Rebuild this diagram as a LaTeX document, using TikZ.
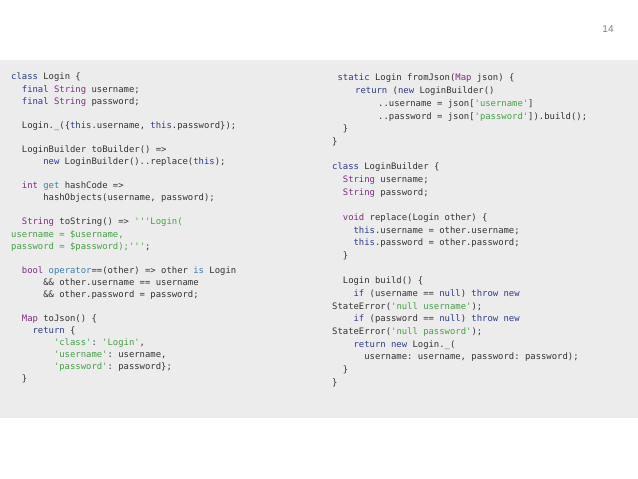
\documentclass[tikz,border=0pt]{standalone}
\usepackage{fontspec}
\setmainfont{Liberation Sans}
\setmonofont{DejaVu Sans Mono}
\definecolor{band}{HTML}{ECECEC}
\definecolor{txt}{HTML}{333333}
\definecolor{kwc}{HTML}{2E3A8C}
\definecolor{tyc}{HTML}{7E2F7E}
\definecolor{kbc}{HTML}{3A80A8}
\definecolor{stc}{HTML}{45A045}
\newcommand\kw[1]{\textcolor{kwc}{#1}}
\newcommand\ty[1]{\textcolor{tyc}{#1}}
\newcommand\kb[1]{\textcolor{kbc}{#1}}
\newcommand\strc[1]{\textcolor{stc}{#1}}
\tikzset{code/.style={anchor=base west,inner sep=0pt,text=txt,font=\ttfamily\fontsize{8.9}{10}\selectfont}}
% name, x0, indent, line index, y0, step, text
\newcommand\codeline[7]{\node[code] (#1) at ({#2+#3*5.35},{479-(#5+#4*#6)}) {#7};}
\newcommand\Lc[4]{\codeline{#1}{11}{#2}{#3}{80}{12.08}{#4}}
\newcommand\Rc[4]{\codeline{#1}{332}{#2}{#3}{81}{12.67}{#4}}
\begin{document}
\begin{tikzpicture}[x=1pt,y=1pt]
\useasboundingbox (0,0) rectangle (638,479);
\fill[white] (0,0) rectangle (638,479);
\fill[band] (0,61) rectangle (638,419);
\node[text=gray,font=\fontsize{10}{12}\selectfont] (pg) at (608,450) {14};
\Lc{l0}{0}{0}{\kw{class} Login \{}
\Lc{l1}{2}{1}{\kw{final} \ty{String} username;}
\Lc{l2}{2}{2}{\kw{final} \ty{String} password;}
\Lc{l4}{2}{4}{Login.\_(\{\kw{this}.username, \kw{this}.password\});}
\Lc{l6}{2}{6}{LoginBuilder toBuilder() =>}
\Lc{l7}{6}{7}{\kw{new} LoginBuilder()..replace(\kw{this});}
\Lc{l9}{2}{9}{\ty{int} \kb{get} hashCode =>}
\Lc{l10}{6}{10}{hashObjects(username, password);}
\Lc{l12}{2}{12}{\ty{String} toString() => \strc{'''Login(}}
\Lc{l13}{0}{13}{\strc{username = \$username,}}
\Lc{l14}{0}{14}{\strc{password = \$password);'''};}
\Lc{l16}{2}{16}{\ty{bool} \kb{operator}==(other) => other \kb{is} Login}
\Lc{l17}{6}{17}{\&\& other.username == username}
\Lc{l18}{6}{18}{\&\& other.password = password;}
\Lc{l20}{2}{20}{\ty{Map} toJson() \{}
\Lc{l21}{4}{21}{\kw{return} \{}
\Lc{l22}{8}{22}{\strc{'class'}: \strc{'Login'},}
\Lc{l23}{8}{23}{\strc{'username'}: username,}
\Lc{l24}{8}{24}{\strc{'password'}: password\};}
\Lc{l25}{2}{25}{\}}
\Rc{r0}{1}{0}{\kw{static} Login fromJson(\ty{Map} json) \{}
\Rc{r1}{4.3}{1}{\kw{return} (\kw{new} LoginBuilder()}
\Rc{r2}{8.6}{2}{..username = json[\strc{'username'}]}
\Rc{r3}{8.6}{3}{..password = json[\strc{'password'}]).build();}
\Rc{r4}{2}{4}{\}}
\Rc{r5}{0}{5}{\}}
\Rc{r7}{0}{7}{\kw{class} LoginBuilder \{}
\Rc{r8}{2}{8}{\ty{String} username;}
\Rc{r9}{2}{9}{\ty{String} password;}
\Rc{r11}{2}{11}{\ty{void} replace(Login other) \{}
\Rc{r12}{4}{12}{\kw{this}.username = other.username;}
\Rc{r13}{4}{13}{\kw{this}.password = other.password;}
\Rc{r14}{2}{14}{\}}
\Rc{r16}{2}{16}{Login build() \{}
\Rc{r17}{4}{17}{\kw{if} (username == \kw{null}) \kw{throw} \kw{new}}
\Rc{r18}{0}{18}{StateError(\strc{'null username'});}
\Rc{r19}{4}{19}{\kw{if} (password == \kw{null}) \kw{throw} \kw{new}}
\Rc{r20}{0}{20}{StateError(\strc{'null password'});}
\Rc{r21}{4}{21}{\kw{return} \kw{new} Login.\_(}
\Rc{r22}{6}{22}{username: username, password: password);}
\Rc{r23}{2}{23}{\}}
\Rc{r24}{0}{24}{\}}
\end{tikzpicture}
\end{document}
